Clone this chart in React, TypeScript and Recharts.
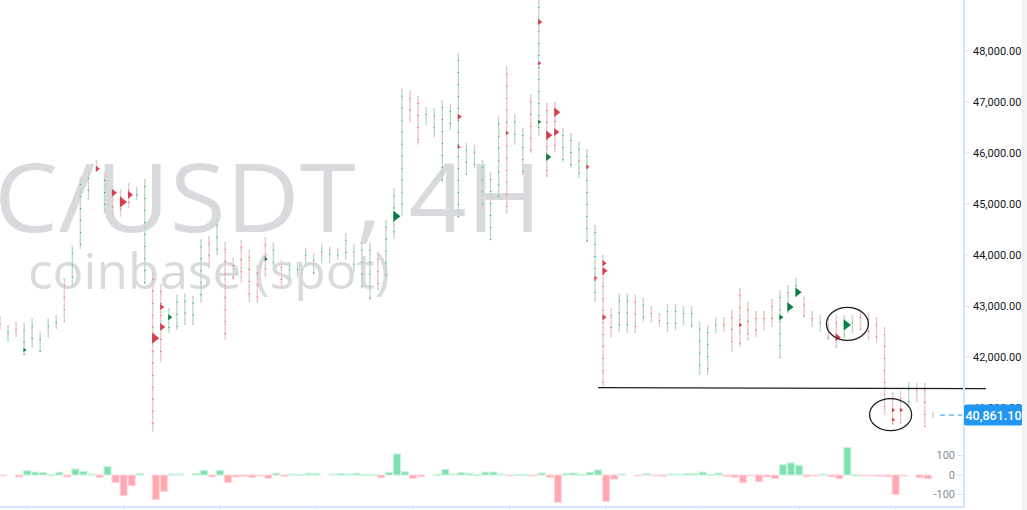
import React from 'react';
import { ComposedChart, Bar, XAxis, YAxis, ReferenceLine, ReferenceDot } from 'recharts';

// 4H candles, BTC/USDT coinbase spot
const highs = [
  42800, 42630, 42690, 42670, 42750, 42490, 42750, 42820, 43550, 44180,
  45530, 45650, 45860, 45610, 45330, 45280, 45410, 45330, 45490, 43670,
  43430, 42960, 43220, 43240, 43200, 44310, 44370, 44730, 44250, 43940,
  44290, 44100, 43800, 44350, 44240, 43900, 43860, 43860, 44140, 44040,
  44200, 44160, 44140, 44430, 44200, 44240, 44240, 44060, 44690, 45310,
  47260, 47220, 47120, 46900, 46880, 47040, 46960, 47960, 46200, 46160,
  45860, 45630, 46710, 47690, 46750, 46490, 47140, 49000, 46980, 47000,
  46490, 46390, 46220, 46080, 44590, 44000, 42960, 43250, 43250, 43220,
  43160, 43000, 42860, 43040, 43040, 43000, 43000, 42690, 42630, 42780,
  42780, 42920, 43350, 43080, 42900, 42900, 43140, 43310, 43410, 43550,
  43180, 42900, 42820, 42760, 42820, 42820, 42820, 42920, 42880, 42780,
  42590, 41310, 41330, 41510, 41490, 41490, 40920,
];
const lows = [
  42530, 42290, 42390, 42040, 42180, 42100, 42390, 42550, 42690, 43350,
  44120, 45080, 45630, 44820, 44750, 44750, 44920, 45080, 43430, 40530,
  41900, 42470, 42530, 42630, 42630, 43060, 43750, 44000, 42330, 43510,
  43450, 43080, 43060, 43570, 43770, 43350, 43510, 43570, 43770, 43610,
  43840, 43840, 43900, 43900, 43650, 43350, 43120, 43310, 43570, 44310,
  44780, 46610, 46160, 46550, 46310, 45430, 46450, 44730, 45570, 45710,
  44940, 44290, 45120, 44820, 46160, 45570, 46000, 46350, 45530, 46020,
  45820, 45710, 45510, 44240, 43080, 41410, 42390, 42490, 42470, 42470,
  42690, 42670, 42590, 42490, 42530, 42630, 42570, 41650, 41650, 42470,
  42490, 42100, 42200, 42330, 42390, 42530, 42590, 41980, 42860, 43180,
  42780, 42590, 42490, 42330, 42180, 42370, 42470, 42530, 42330, 42270,
  40860, 40670, 40700, 41040, 41120, 40630, 40800,
];
// buy - sell volume delta per candle
const deltas = [
  -2, 0, -10, 22, 15, 12, 2, 14, -10, 31,
  19, 5, -12, 43, -39, -106, -55, 7, 0, -126,
  -84, 5, 5, 0, 7, 24, -9, 24, -39, -10,
  -7, -12, -3, -17, 9, -7, 5, 3, 9, 7,
  0, 5, 8, 5, 9, 2, 2, -14, 14, 108,
  17, -17, -9, 0, 3, 29, 5, 12, 9, 1,
  15, 15, 5, -3, 3, 2, -3, 10, -12, -140,
  7, 10, 4, 14, 26, -135, -22, 5, 0, -3,
  7, -3, -7, 5, 5, 7, 7, 15, 3, 10,
  -7, -12, -39, -3, -34, -10, -19, 53, 62, 50,
  -9, -3, 5, -9, -19, 142, 1, -1, -2, -7,
  -9, -100, -5, 0, -14, -19, 0,
];
// heavy volume-at-price nodes: [candle, price, volume, side]
const profileNodes: [number, number, number, string][] = [
  [3, 42140, 2, 'g'], [12, 45690, 3, 'r'], [14, 45220, 4, 'r'], [15, 45040, 6, 'r'],
  [16, 45180, 4, 'r'], [19, 42370, 6, 'r'], [20, 42980, 3, 'r'], [20, 42590, 4, 'r'],
  [21, 42780, 3, 'g'], [33, 43920, 2, 'g'], [49, 44760, 6, 'g'], [57, 46710, 3, 'r'],
  [57, 46120, 2, 'r'], [63, 46390, 2, 'r'], [67, 48570, 3, 'r'], [67, 47760, 2, 'r'],
  [67, 46610, 2, 'g'], [68, 46350, 5, 'r'], [68, 45920, 4, 'g'], [69, 46800, 5, 'r'],
  [69, 46410, 4, 'r'], [73, 45730, 2, 'r'], [74, 43550, 2, 'r'], [75, 43840, 3, 'r'],
  [75, 43690, 4, 'r'], [75, 42780, 3, 'r'], [92, 42630, 2, 'r'], [97, 42780, 3, 'g'],
  [98, 42980, 5, 'g'], [99, 43270, 5, 'g'], [104, 42390, 4, 'r'], [105, 42630, 6, 'g'],
  [111, 40960, 2, 'r'], [111, 40770, 2, 'r'], [112, 40960, 2, 'r'],
];
const priceTicks = [41000, 42000, 43000, 44000, 45000, 46000, 47000, 48000];
const deltaTicks = [-100, 0, 100];
const timeTicks = [3, 15, 27, 39, 51, 63, 75, 87, 99, 111];
const lastPrice = 40861.1;
const supportLevel = 41400;
const SLOTS = 120;
const PRICE_MIN = 40373;
const PRICE_MAX = 49000;

const rows = Array.from({ length: SLOTS }, (_, i) =>
  i < highs.length
    ? {
        i,
        range: [lows[i], highs[i]],
        delta: deltas[i],
        nodes: profileNodes.filter((n) => n[0] === i),
      }
    : { i, range: null, delta: null, nodes: [] }
);

const AXIS_BLUE = '#d3e5fa';
const fmtPrice = (v: number) =>
  v.toLocaleString('en-US', { minimumFractionDigits: 2, maximumFractionDigits: 2 });

const Wick = (props: any) => {
  const { x, y, width, height, payload } = props;
  if (!payload || !payload.range || !isFinite(y) || !isFinite(height)) return null;
  const [lo, hi] = payload.range;
  const wx = x + width / 2 - 3;
  const up = payload.delta >= 0;
  const main = up ? '#b2e0ca' : '#f8c6cb';
  const alt = up ? '#f8c6cb' : '#b2e0ca';
  const dot = up ? '#3aa374' : '#e1606f';
  const k = height / Math.max(hi - lo, 1);
  return (
    <g>
      <line x1={wx} x2={wx} y1={y} y2={y + height} stroke={main} strokeWidth={1.4} />
      <line x1={wx} x2={wx} y1={y} y2={y + height} stroke={alt} strokeWidth={1.4} strokeDasharray="2 7" />
      <line x1={wx} x2={wx} y1={y} y2={y + height} stroke={dot} strokeWidth={1.2} strokeDasharray="1 11" strokeDashoffset={5} />
      {payload.nodes.map((n: any, j: number) => {
        const py = y + (hi - n[1]) * k;
        const h = n[2] * 1.7 + 1;
        return (
          <polygon
            key={j}
            points={`${wx - 0.7},${py - h / 2} ${wx + n[2] + 0.5},${py} ${wx - 0.7},${py + h / 2}`}
            fill={n[3] === 'g' ? '#0a7d47' : '#d8404f'}
          />
        );
      })}
    </g>
  );
};

const DeltaBar = (props: any) => {
  const { x, y, width, height, payload } = props;
  if (!payload || payload.delta == null || payload.delta === 0 || !isFinite(y)) return null;
  const top = Math.min(y, y + height);
  const h = Math.max(Math.abs(height), 1);
  const up = payload.delta > 0;
  return (
    <rect
      x={x + 0.5}
      y={top}
      width={width - 1}
      height={h}
      fill={up ? '#7fe0b0' : '#ffa8b1'}
      stroke={up ? '#c9f3de' : '#ffd6db'}
      strokeWidth={1}
    />
  );
};

// price axis tick; the lowest tick also carries the last-price tag so the tag sits over its text
const PriceTick = (props: any) => {
  const { x, y, payload, height, index } = props;
  const axisX = x - 9;
  const tagY = ((PRICE_MAX - lastPrice) / (PRICE_MAX - PRICE_MIN)) * height;
  return (
    <g>
      <text x={x} y={y} dy={4} fontSize={11} fill="#131722" textAnchor="start">
        {fmtPrice(payload.value)}
      </text>
      {index === 0 && (
        <g>
          <rect x={axisX} y={tagY - 10.5} width={59} height={21} rx={2.5} fill="#2196f3" />
          <text x={axisX + 29.5} y={tagY + 4.5} textAnchor="middle" fontSize={12.5} fontWeight={500} fill="#fff">
            {fmtPrice(lastPrice)}
          </text>
        </g>
      )}
    </g>
  );
};

export default function App() {
  return (
    <div
      style={{
        position: 'absolute',
        left: 0,
        top: 0,
        width: 1027,
        height: 510,
        overflow: 'hidden',
        background: '#fff',
        fontFamily: 'Roboto, sans-serif',
      }}
    >
      <svg width={1027} height={440} style={{ position: 'absolute', left: 0, top: 0 }}>
        <text
          x={-6}
          y={232}
          fontSize={96}
          fontFamily="'Open Sans', sans-serif"
          fill="#d9dadd"
          textLength={548}
          lengthAdjust="spacingAndGlyphs"
        >
          C/USDT, 4H
        </text>
        <text
          x={28}
          y={289}
          fontSize={50}
          fontFamily="'Open Sans', sans-serif"
          fill="#d9dadd"
          textLength={362}
          lengthAdjust="spacingAndGlyphs"
        >
          coinbase (spot)
        </text>
      </svg>

      <div style={{ position: 'absolute', left: 0, top: 0 }}>
        <ComposedChart width={1027} height={440} data={rows} margin={{ top: 0, right: 0, bottom: 0, left: 0 }}>
          <XAxis dataKey="i" hide padding={{ left: -1, right: 0 }} />
          <YAxis
            orientation="right"
            width={63}
            domain={[PRICE_MIN, PRICE_MAX]}
            allowDataOverflow
            ticks={priceTicks}
            axisLine={{ stroke: AXIS_BLUE, strokeWidth: 2 }}
            tickLine={{ stroke: AXIS_BLUE }}
            tickSize={5}
            tickMargin={4}
            tick={<PriceTick />}
          />
          <Bar dataKey="range" barSize={8} shape={<Wick />} isAnimationActive={false} />
          <ReferenceLine
            segment={[{ x: 74, y: supportLevel }, { x: 119, y: supportLevel }]}
            shape={(p: any) => (
              <line
                x1={Math.min(p.x1, p.x2)}
                y1={p.y1}
                x2={Math.max(p.x1, p.x2) + 26}
                y2={p.y2 + 1}
                stroke="#1c1c1c"
                strokeWidth={1.3}
              />
            )}
          />
          <ReferenceDot
            x={105}
            y={42650}
            shape={(p: any) => (
              <ellipse cx={p.cx} cy={p.cy} rx={21} ry={16.5} fill="none" stroke="#1c1c1c" strokeWidth={1.3} />
            )}
          />
          <ReferenceDot
            x={110}
            y={40870}
            shape={(p: any) => (
              <ellipse cx={p.cx + 3} cy={p.cy} rx={21} ry={16} fill="none" stroke="#1c1c1c" strokeWidth={1.3} />
            )}
          />
          <ReferenceLine
            y={lastPrice}
            shape={(p: any) => {
              const right = Math.max(p.x1, p.x2);
              return (
                <line x1={right - 24} x2={right - 2} y1={p.y1} y2={p.y1} stroke="#2196f3" strokeWidth={1} strokeDasharray="5 4" />
              );
            }}
          />
        </ComposedChart>
      </div>

      <div style={{ position: 'absolute', left: 0, top: 440 }}>
        <ComposedChart width={1027} height={70} data={rows} margin={{ top: 0, right: 63, bottom: 0, left: 0 }}>
          <XAxis
            dataKey="i"
            height={3}
            padding={{ left: -1, right: 0 }}
            ticks={timeTicks}
            interval={0}
            tickFormatter={() => ''}
            axisLine={{ stroke: AXIS_BLUE, strokeWidth: 2 }}
            tickLine={{ stroke: AXIS_BLUE }}
            tickSize={3}
          />
          <YAxis
            orientation="right"
            mirror
            width={63}
            domain={[-164, 179.5]}
            allowDataOverflow
            ticks={deltaTicks}
            axisLine={{ stroke: AXIS_BLUE, strokeWidth: 2 }}
            tickLine={{ stroke: AXIS_BLUE }}
            tickSize={6}
            tickMargin={3}
            tick={{ fill: '#868993', fontSize: 11 }}
          />
          <Bar dataKey="delta" barSize={8} shape={<DeltaBar />} isAnimationActive={false} />
        </ComposedChart>
      </div>

      <div style={{ position: 'absolute', left: 1022, top: 0, width: 5, height: 510, background: '#f1f2f4' }} />
    </div>
  );
}
